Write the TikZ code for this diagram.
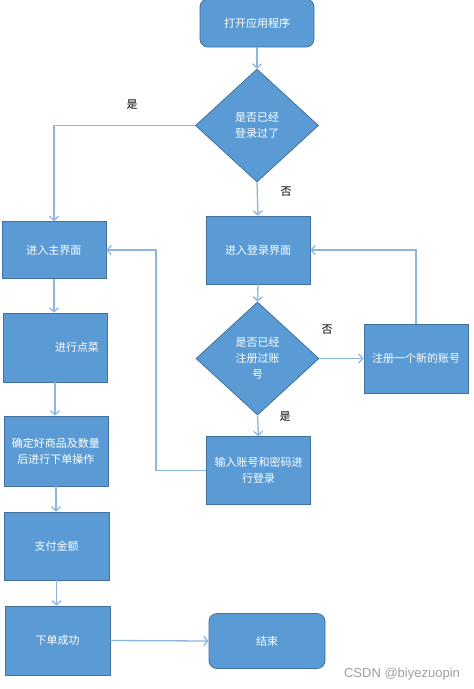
\documentclass[tikz,border=0pt]{standalone}
\usepackage{fontspec}
\setmainfont{Noto Sans CJK SC}
\newfontfamily\wmfont{Liberation Sans}
\usetikzlibrary{shapes.geometric,arrows.meta}
\definecolor{boxfill}{HTML}{5B9BD5}
\definecolor{boxedge}{HTML}{41719C}
\definecolor{linkc}{HTML}{8DB4E2}
\begin{document}
\begin{tikzpicture}[x=1pt,y=-1pt,
  every node/.style={font=\fontsize{11}{16}\selectfont},
  box/.style={draw=boxedge, fill=boxfill, line width=0.8pt, text=white, align=center, inner sep=0pt},
  rbox/.style={box, rounded corners=8pt},
  dia/.style={box, diamond, aspect=1.09, minimum width=123pt, minimum height=113pt},
  link/.style={draw=linkc, line width=1.3pt, -{Straight Barb[length=4pt,width=9pt]}},
  plain/.style={draw=linkc, line width=1.3pt},
  lab/.style={text=black},
  wm/.style={text=black!38, font=\wmfont\fontsize{13}{15}\selectfont}]
\useasboundingbox (0,0) rectangle (474,689);
% nodes
\node[rbox, minimum width=114pt, minimum height=48pt] (start) at (257,23) {打开应用程序};
\node[dia] (d1) at (257,125.5) {是否已经\\登录过了};
\node[box, minimum width=104pt, minimum height=57pt] (main) at (54,250) {进入主界面};
\node[box, minimum width=104pt, minimum height=68pt] (login) at (258,250) {进入登录界面};
\node[dia] (d2) at (257.5,358.5) {是否已经\\注册过账\\号};
\node[box, minimum width=104pt, minimum height=69pt] (reg) at (416,358.5) {注册一个新的账号};
\node[box, minimum width=104pt, minimum height=68pt] (input) at (258.5,470.5) {输入账号和密码进\\行登录};
\node[box, minimum width=104pt, minimum height=69pt] (order) at (55,347.5) {};
\node[text=white] (ordertxt) at (77,347) {进行点菜};
\node[box, minimum width=104pt, minimum height=70pt] (confirm) at (56,451) {确定好商品及数量\\后进行下单操作};
\node[box, minimum width=105pt, minimum height=68pt] (pay) at (56.5,546) {支付金额};
\node[box, minimum width=105pt, minimum height=69pt] (done) at (57.5,640.5) {下单成功};
\node[rbox, minimum width=116pt, minimum height=55pt] (end) at (267,641) {结束};
\coordinate (turn) at (156,250);
% labels
\node[lab] (yes1) at (132,105) {是};
\node[lab] (no1) at (286,192) {否};
\node[lab] (no2) at (327,330) {否};
\node[lab] (yes2) at (285,417) {是};
\node[wm] (mark) at (402,674) {CSDN @biyezuopin};
% connectors
\draw[link] (start.south) -- (d1.north);
\draw[link] (d1.west) -| (main.north);
\draw[link] (d1.south) -- (login.north);
\draw[link] (login.south) -- (d2.north);
\draw[link] (d2.east) -- (reg.west);
\draw[link] (reg.north) |- (login.east);
\draw[link] (d2.south) -- (input.north);
\draw[link] (input.west) -| (turn) -- (main.east);
\draw[link] (main.south) -- (main.south |- order.north);
\draw[link] (order.south) -- (order.south |- confirm.north);
\draw[link] (confirm.south) -- (confirm.south |- pay.north);
\draw[link] (pay.south) -- (pay.south |- done.north);
\draw[link] (done.east) -- (end.west);
\end{tikzpicture}
\end{document}
